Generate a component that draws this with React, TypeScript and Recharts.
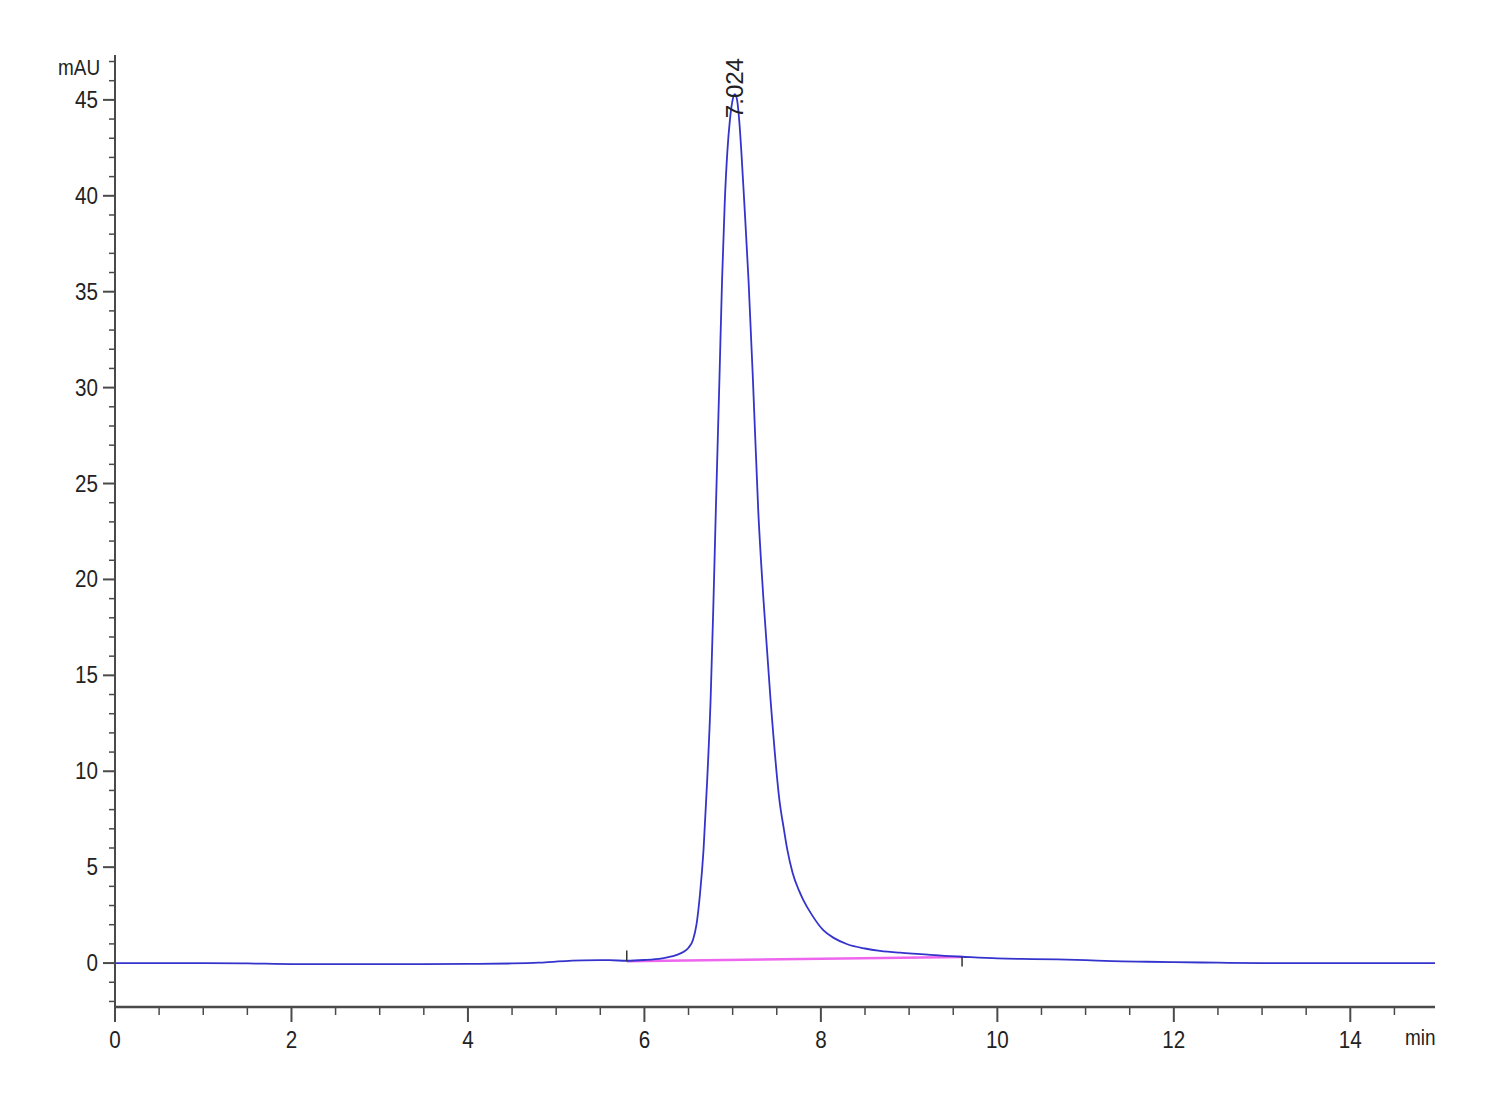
import React from "react"
import { LineChart, Line, XAxis, YAxis, ReferenceLine, ReferenceDot } from "recharts"

// retention time (min) and absorbance (mAU)
const times = [
  0, 0.5, 1.0, 1.5, 1.8, 2.0, 2.5, 3.0, 3.5, 4.0, 4.5, 4.8, 5.0, 5.3, 5.6, 5.8, 6.0, 6.2, 6.35, 6.45,
  6.5, 6.55, 6.59, 6.63, 6.67, 6.71, 6.75, 6.78, 6.81, 6.85, 6.88, 6.91, 6.94, 6.97, 7.0, 7.024, 7.05, 7.075,
  7.1, 7.13, 7.18, 7.23, 7.29, 7.35, 7.43, 7.53, 7.58, 7.62, 7.68, 7.75, 7.8, 7.9, 8.03, 8.15, 8.3, 8.5, 8.67,
  8.9, 9.13, 9.4, 9.6, 10.0, 10.4, 10.68, 11.0, 11.3, 11.7, 12.0, 12.5, 13.0, 14.0, 14.96,
]
const signal = [
  0, 0, 0, -0.02, -0.04, -0.05, -0.06, -0.06, -0.05, -0.04, -0.02, 0.02, 0.08, 0.14, 0.15, 0.12, 0.16, 0.25, 0.4, 0.6,
  0.8, 1.2, 2.0, 3.6, 5.9, 9.4, 13.7, 18.4, 23.7, 30.4, 35.6, 39.6, 42.3, 44.0, 45.0, 45.3, 45.0, 43.9,
  42.2, 39.8, 35.6, 30.4, 23.6, 18.9, 13.7, 8.5, 7.0, 5.9, 4.7, 3.8, 3.3, 2.5, 1.7, 1.3, 0.98, 0.76, 0.64,
  0.54, 0.47, 0.38, 0.33, 0.24, 0.21, 0.19, 0.15, 0.1, 0.07, 0.05, 0.02, 0, 0, 0,
]

// integration baseline (start / end of the peak)
const baselineTimes = [5.8, 9.6]
const baselineValues = [0.1, 0.32]

const peakTime = 7.024
const peakHeight = 45.3
const peakLabel = "7.024"

const xMajor = [0, 2, 4, 6, 8, 10, 12, 14]
const yMajor = [0, 5, 10, 15, 20, 25, 30, 35, 40, 45]

const xTicks: number[] = []
for (let i = 0; i <= 29; i++) xTicks.push(i * 0.5)
const yTicks: number[] = []
for (let v = -2; v <= 47; v++) yTicks.push(v)

const data = times.map((t, i) => ({ t, v: signal[i] }))
const baseline = baselineTimes.map((t, i) => ({ t, b: baselineValues[i] }))

const FONT = "'Liberation Sans', Arial, sans-serif"
const AXIS = "#4a4a4a"
const TXT = "#222"

function XTick(props: any) {
  const { x, y, payload } = props
  const v = payload.value
  const major = xMajor.includes(v)
  return (
    <g>
      <line x1={x} x2={x} y1={y} y2={y + (major ? 15 : 8)} stroke={AXIS} strokeWidth={major ? 2 : 1.5} />
      {major && (
        <text
          transform={`translate(${x} ${y + 33}) scale(0.86 1)`}
          textAnchor="middle"
          dominantBaseline="central"
          fontSize={24}
          fontFamily={FONT}
          fill={TXT}
        >
          {v}
        </text>
      )}
    </g>
  )
}

function YTick(props: any) {
  const { x, y, payload } = props
  const v = payload.value
  const major = yMajor.includes(v)
  return (
    <g>
      <line x1={x - (major ? 12 : 6)} x2={x} y1={y} y2={y} stroke={AXIS} strokeWidth={major ? 2 : 1.5} />
      {major && (
        <text
          transform={`translate(${x - 17} ${y}) scale(0.86 1)`}
          textAnchor="end"
          dominantBaseline="central"
          fontSize={24}
          fontFamily={FONT}
          fill={TXT}
        >
          {v}
        </text>
      )}
    </g>
  )
}

function PeakLabel(props: any) {
  const { cx, cy } = props
  return (
    <text
      transform={`translate(${cx} ${cy + 24}) rotate(-90)`}
      textAnchor="start"
      dominantBaseline="central"
      fontSize={24}
      fontFamily={FONT}
      fill={TXT}
    >
      {peakLabel}
    </text>
  )
}

export default function App() {
  return (
    <div style={{ position: "absolute", left: 0, top: 0, width: 1500, height: 1100, background: "#fff" }}>
      <LineChart width={1500} height={1100} margin={{ top: 55, right: 65, bottom: 33, left: 0 }}>
        <XAxis
          type="number"
          dataKey="t"
          domain={[0, 14.96]}
          ticks={xTicks}
          interval={0}
          allowDataOverflow
          height={60}
          tickSize={0}
          tickMargin={0}
          tick={<XTick />}
          axisLine={{ stroke: AXIS, strokeWidth: 2.5 }}
          tickLine={false}
        />
        <YAxis
          type="number"
          domain={[-2.29, 47.34]}
          ticks={yTicks}
          interval={0}
          allowDataOverflow
          width={115}
          tickSize={0}
          tickMargin={0}
          tick={<YTick />}
          axisLine={{ stroke: AXIS, strokeWidth: 2 }}
          tickLine={false}
        />
        <Line
          data={baseline}
          dataKey="b"
          type="linear"
          stroke="#ee66ee"
          strokeWidth={2.5}
          dot={false}
          isAnimationActive={false}
        />
        <Line
          data={data}
          dataKey="v"
          type="monotone"
          stroke="#3434cc"
          strokeWidth={1.8}
          dot={false}
          isAnimationActive={false}
        />
        <ReferenceLine
          segment={[
            { x: baselineTimes[0], y: baselineValues[0] },
            { x: baselineTimes[0], y: baselineValues[0] + 0.55 },
          ]}
          stroke="#333"
          strokeWidth={1.5}
        />
        <ReferenceLine
          segment={[
            { x: baselineTimes[1], y: baselineValues[1] },
            { x: baselineTimes[1], y: baselineValues[1] - 0.5 },
          ]}
          stroke="#333"
          strokeWidth={1.5}
        />
        <ReferenceDot x={peakTime} y={peakHeight} r={0} shape={<PeakLabel />} />
      </LineChart>
      <div
        style={{
          position: "absolute",
          left: 58,
          top: 55,
          fontSize: 22,
          fontFamily: FONT,
          color: TXT,
          transform: "scaleX(0.86)",
          transformOrigin: "left top",
        }}
      >
        mAU
      </div>
      <div
        style={{
          position: "absolute",
          right: 65,
          top: 1025,
          fontSize: 22,
          fontFamily: FONT,
          color: TXT,
          transform: "scaleX(0.86)",
          transformOrigin: "right top",
        }}
      >
        min
      </div>
    </div>
  )
}
